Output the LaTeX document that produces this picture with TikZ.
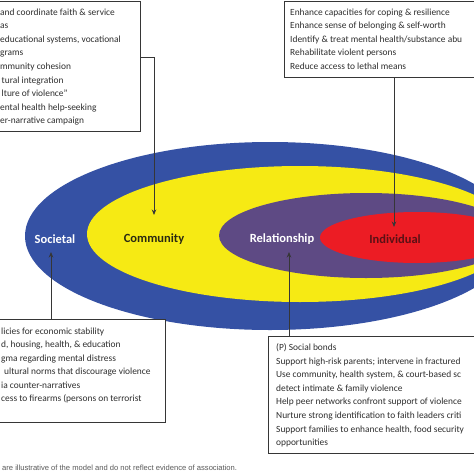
\documentclass[tikz,border=0pt]{standalone}
\usepackage{fontspec}
\setmainfont{Carlito}
\newfontfamily\footfont{Liberation Sans}
\usetikzlibrary{arrows.meta}
\definecolor{ringblue}{HTML}{3551A4}
\definecolor{ringyellow}{HTML}{F6EA14}
\definecolor{ringpurple}{HTML}{5E4A84}
\definecolor{ringred}{HTML}{EC1C24}
\definecolor{boxgray}{HTML}{363636}
\definecolor{txtgray}{HTML}{2E2E2E}
\definecolor{darklabel}{HTML}{2A2A12}
\definecolor{redlabel}{HTML}{5C1015}
\definecolor{footgray}{HTML}{5A5A5A}
\begin{document}
\begin{tikzpicture}[x=1pt,y=-1pt,
  boxline/.style={draw=boxgray, line width=1pt, fill=white, inner sep=0pt, anchor=north west},
  boxtext/.style={anchor=base west, inner sep=0pt, font=\fontsize{9.4}{11}\selectfont, text=txtgray},
  lvl/.style={font=\fontsize{12.5}{14}\selectfont\bfseries, inner sep=0pt},
  conn/.style={draw=boxgray, line width=0.9pt},
  tip/.style={-{Stealth[length=5.5pt,width=4.5pt]}}]
\useasboundingbox (0,0) rectangle (474,474);
\clip (0,0) rectangle (474,474);
\fill[white] (0,0) rectangle (474,474);

% rings
\fill[ringblue] (270,236) ellipse [x radius=245, y radius=94];
\fill[ringyellow] (300,234) ellipse [x radius=213, y radius=68];
\fill[ringpurple] (366,235.5) ellipse [x radius=147, y radius=42.5];
\fill[ringred] (417,237.5) ellipse [x radius=97, y radius=25.5];

% level labels
\node[lvl, text=white] (soc) at (55,239) {Societal};
\node[lvl, text=darklabel] (com) at (154,239) {Community};
\node[lvl, text=white] (rel) at (282,239) {Relationship};
\node[lvl, text=redlabel] (ind) at (395,239) {Individual};

% boxes
\node[boxline, minimum width=145pt, minimum height=130pt] (tl) at (-5,1) {};
\node[boxline, minimum width=196pt, minimum height=76pt] (tr) at (284,1) {};
\node[boxline, minimum width=170pt, minimum height=103pt] (bl) at (-5,319) {};
\node[boxline, minimum width=212pt, minimum height=117pt] (br) at (268,336) {};

% top-left text (community)
\node[boxtext] (tl1) at (0,15.1) {and coordinate faith \& service};
\node[boxtext] (tl2) at (0,28.7) {as};
\node[boxtext] (tl3) at (0,42.3) {educational systems, vocational};
\node[boxtext] (tl4) at (0,55.9) {grams};
\node[boxtext] (tl5) at (0,69.5) {mmunity cohesion};
\node[boxtext] (tl6) at (1.5,83.1) {tural integration};
\node[boxtext] (tl7) at (1.5,96.7) {lture of violence''};
\node[boxtext] (tl8) at (0,110.3) {ental health help-seeking};
\node[boxtext] (tl9) at (0,123.9) {er-narrative campaign};

% top-right text (individual)
\node[boxtext] (tr1) at (290,15.1) {Enhance capacities for coping \& resilience};
\node[boxtext] (tr2) at (290,28.7) {Enhance sense of belonging \& self-worth};
\node[boxtext] (tr3) at (290,42.3) {Identify \& treat mental health/substance abu};
\node[boxtext] (tr4) at (290,55.9) {Rehabilitate violent persons};
\node[boxtext] (tr5) at (290,69.5) {Reduce access to lethal means};

% bottom-left text (societal)
\node[boxtext] (bl1) at (1,334.5) {licies for economic stability};
\node[boxtext] (bl2) at (1,347.9) {d, housing, health, \& education};
\node[boxtext] (bl3) at (1,361.3) {gma regarding mental distress};
\node[boxtext] (bl4) at (4,374.7) {ultural norms that discourage violence};
\node[boxtext] (bl5) at (1,388.1) {ia counter-narratives};
\node[boxtext] (bl6) at (1,401.5) {cess to firearms (persons on terrorist};

% bottom-right text (relationship)
\node[boxtext] (br1) at (276,350.5) {(P) Social bonds};
\node[boxtext] (br2) at (276,364.1) {Support high-risk parents; intervene in fractured};
\node[boxtext] (br3) at (276,377.7) {Use community, health system, \& court-based sc};
\node[boxtext] (br4) at (276,391.3) {detect intimate \& family violence};
\node[boxtext] (br5) at (276,404.9) {Help peer networks confront support of violence};
\node[boxtext] (br6) at (276,418.5) {Nurture strong identification to faith leaders criti};
\node[boxtext] (br7) at (276,432.1) {Support families to enhance health, food security};
\node[boxtext] (br8) at (276,445.7) {opportunities};

% connectors
\coordinate (comtip) at (154,215);
\coordinate (indtip) at (394,227);
\coordinate (soctip) at (51,252);
\coordinate (reltip) at (289,252);
\coordinate (tlout) at (140,57.3);
\draw[conn, tip] (tl.east |- tlout) -| (comtip);
\draw[conn, tip] (tr.south -| indtip) -- (indtip);
\draw[conn, tip] (bl.north -| soctip) -- (soctip);
\draw[conn, tip] (br.north -| reltip) -- (reltip);

% footer
\node[anchor=base west, inner sep=0pt, text=footgray, font=\footfont\fontsize{7.6}{8}\selectfont] (foot) at (2,470) {are illustrative of the model and do not reflect evidence of association.};
\end{tikzpicture}
\end{document}
